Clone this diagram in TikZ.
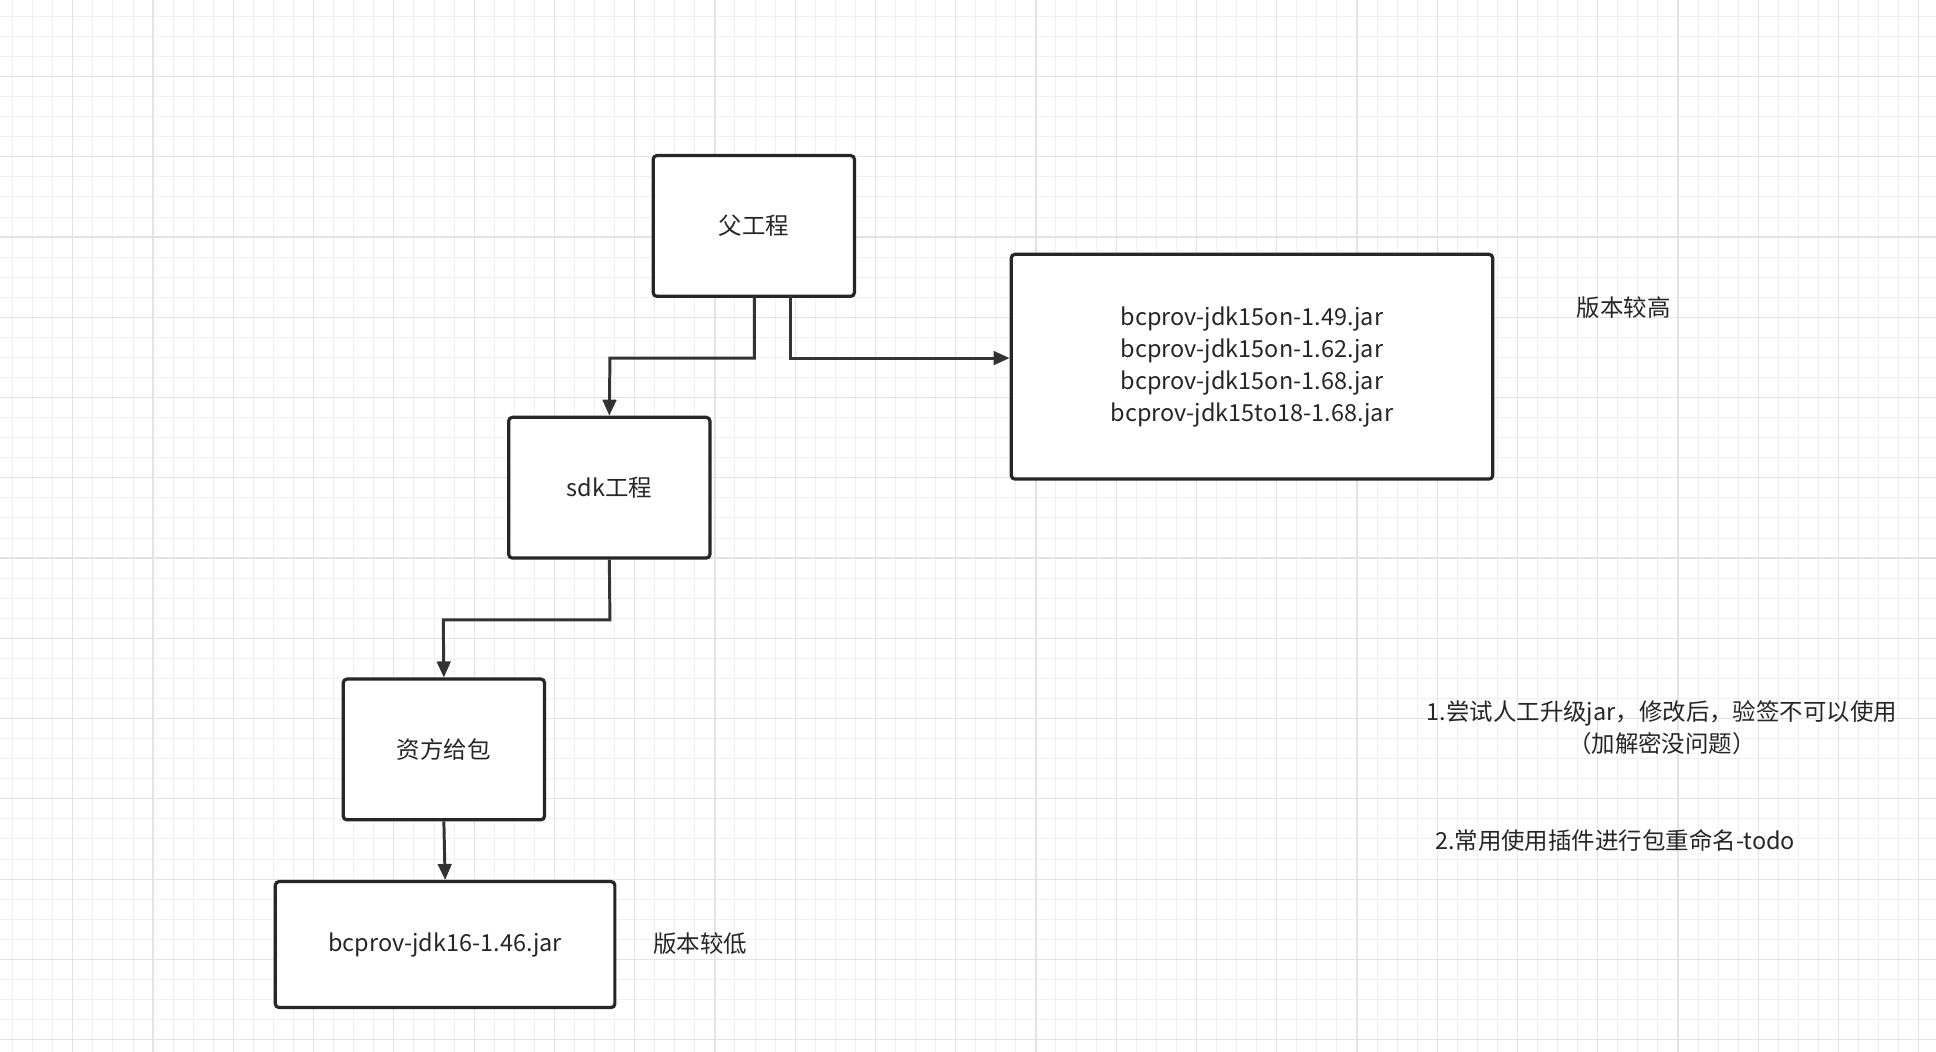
\documentclass[tikz,border=0pt]{standalone}
\usepackage{fontspec}
\setmainfont{Noto Sans CJK SC}
\usetikzlibrary{arrows.meta}
\begin{document}
\begin{tikzpicture}[x=1pt,y=-1pt,
  box/.style={draw=black!85,line width=2.6pt,rounded corners=3pt,fill=white},
  conn/.style={draw=black!80,line width=2.4pt,-{Triangle[length=13pt,width=11pt]}},
  txt/.style={font=\fontsize{19}{26}\selectfont,text=black!85}]
\useasboundingbox (0,0) rectangle (1568,852);
\fill[white] (0,0) rectangle (1568,852);
\foreach \i in {0,...,97} {\draw[black!6,line width=0.8pt] (\i*16.25-6,0) -- (\i*16.25-6,852);}
\foreach \i in {0,...,53} {\draw[black!6,line width=0.8pt] (0,\i*16.25-3) -- (1568,\i*16.25-3);}
\foreach \i in {0,...,24} {\draw[black!11,line width=1pt] (\i*65-6,0) -- (\i*65-6,852);}
\foreach \i in {0,...,13} {\draw[black!11,line width=1pt] (0,\i*65-3) -- (1568,\i*65-3);}
\node[box,txt,minimum width=163pt,minimum height=114pt] (f) at (610.5,183) {父工程};
\node[box,txt,minimum width=390pt,minimum height=182pt,align=center] (b) at (1014,297) {bcprov-jdk15on-1.49.jar\\bcprov-jdk15on-1.62.jar\\bcprov-jdk15on-1.68.jar\\bcprov-jdk15to18-1.68.jar};
\node[box,txt,minimum width=163pt,minimum height=114pt] (s) at (493.5,395) {sdk工程};
\node[box,txt,minimum width=163pt,minimum height=114pt] (z) at (359.5,607) {资方给包};
\node[box,txt,minimum width=275pt,minimum height=102pt] (j) at (360.5,765) {bcprov-jdk16-1.46.jar};
\coordinate (fa) at (611,240); \coordinate (fb) at (640,240);
\draw[conn] (fa) -- (611,290) -- (494,290) -- (s.north);
\draw[conn] (fb) -- (640,290) -- (b.west |- 0,290);
\draw[conn] (s.south) -- (494,502) -- (359,502) -- (z.north);
\draw[conn] (z.south) -- (j.north);
\node[txt] (h) at (1315,249) {版本较高};
\node[txt] (l) at (567,764) {版本较低};
\node[txt,align=center] (n1) at (1346,589) {1.尝试人工升级jar，修改后，验签不可以使用\\（加解密没问题）};
\node[txt] (n2) at (1308,681) {2.常用使用插件进行包重命名-todo};
\end{tikzpicture}
\end{document}
